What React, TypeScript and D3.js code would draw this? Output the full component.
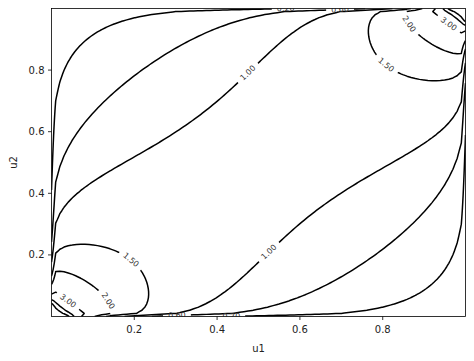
import React from 'react';
import * as d3 from 'd3';

// Gaussian copula density, correlation
const RHO = 0.5;
const GRID_N = 100;
const GRID_MIN = 0.0001;
const GRID_MAX = 0.9999;
const LEVELS = [0.2, 0.6, 1.0, 1.5, 2.0, 3.0, 4.0, 5.0];
const X_TICKS = [0.2, 0.4, 0.6, 0.8];
const Y_TICKS = [0.2, 0.4, 0.6, 0.8];
// contour label anchors (level, u1, u2)
const LABEL_LEVELS = [1.0, 1.0, 1.5, 2.0, 3.0, 1.5, 2.0, 3.0, 0.6, 0.2, 0.2, 0.6];
const LABEL_U1 = [0.471, 0.522, 0.807, 0.862, 0.958, 0.19, 0.138, 0.042, 0.303, 0.43, 0.57, 0.695];
const LABEL_U2 = [0.793, 0.216, 0.816, 0.952, 0.952, 0.183, 0.054, 0.054, 0.01, 0.008, 0.992, 0.99];

const W = 474, H = 361;
const M = { left: 51.5, right: 465.5, top: 8.5, bottom: 316.5 };
const LABEL_FONT = 8;

function normInv(p: number): number {
  const a = [-3.969683028665376e1, 2.209460984245205e2, -2.759285104469687e2, 1.38357751867269e2, -3.066479806614716e1, 2.506628277459239];
  const b = [-5.447609879822406e1, 1.615858368580409e2, -1.556989798598866e2, 6.680131188771972e1, -1.328068155288572e1];
  const c = [-7.784894002430293e-3, -3.223964580411365e-1, -2.400758277161838, -2.549732539343734, 4.374664141464968, 2.938163982698783];
  const d = [7.784695709041462e-3, 3.224671290700398e-1, 2.445134137142996, 3.754408661907416];
  const pl = 0.02425, ph = 1 - pl;
  let q, r;
  if (p < pl) {
    q = Math.sqrt(-2 * Math.log(p));
    return (((((c[0] * q + c[1]) * q + c[2]) * q + c[3]) * q + c[4]) * q + c[5]) / ((((d[0] * q + d[1]) * q + d[2]) * q + d[3]) * q + 1);
  } else if (p <= ph) {
    q = p - 0.5; r = q * q;
    return (((((a[0] * r + a[1]) * r + a[2]) * r + a[3]) * r + a[4]) * r + a[5]) * q / (((((b[0] * r + b[1]) * r + b[2]) * r + b[3]) * r + b[4]) * r + 1);
  } else {
    q = Math.sqrt(-2 * Math.log(1 - p));
    return -(((((c[0] * q + c[1]) * q + c[2]) * q + c[3]) * q + c[4]) * q + c[5]) / ((((d[0] * q + d[1]) * q + d[2]) * q + d[3]) * q + 1);
  }
}

function density(u: number, v: number): number {
  const x = normInv(u), y = normInv(v);
  const k = 1 - RHO * RHO;
  return Math.exp(-(RHO * RHO * (x * x + y * y) - 2 * RHO * x * y) / (2 * k)) / Math.sqrt(k);
}

function textWidth(s: string, f: number) {
  let w = 0;
  for (const ch of s) w += ch === '.' ? 0.318 * f : 0.636 * f;
  return w;
}

export default function App() {
  const x = d3.scaleLinear().domain([GRID_MIN, GRID_MAX]).range([M.left, M.right]);
  const y = d3.scaleLinear().domain([GRID_MIN, GRID_MAX]).range([M.bottom, M.top]);
  const step = (GRID_MAX - GRID_MIN) / (GRID_N - 1);
  const grid = d3.range(GRID_N).map(i => GRID_MIN + i * step);
  const values = new Array(GRID_N * GRID_N);
  for (let j = 0; j < GRID_N; j++) for (let i = 0; i < GRID_N; i++) values[j * GRID_N + i] = density(grid[i], grid[j]);
  const contours = d3.contours().size([GRID_N, GRID_N]).thresholds(LEVELS)(values);

  const isB = (p: number[]) => p[0] <= 0 || p[0] >= GRID_N || p[1] <= 0 || p[1] >= GRID_N;
  const toPx = (p: number[]) => [x(GRID_MIN + (p[0] - 0.5) * step), y(GRID_MIN + (p[1] - 0.5) * step)];

  const levelLines = contours.map(c => {
    const lines: number[][][] = [];
    for (const poly of c.coordinates) for (const ring of poly) {
      const pts = ring.slice(0, -1);
      const idx = pts.findIndex(isB);
      if (idx < 0) { lines.push(ring.map(toPx)); continue; }
      const rot = pts.slice(idx).concat(pts.slice(0, idx)).concat([pts[idx]]);
      let cur: number[][] = [];
      for (const p of rot) {
        if (isB(p)) { if (cur.length > 1) lines.push(cur.map(toPx)); cur = []; }
        else cur.push(p);
      }
      if (cur.length > 1) lines.push(cur.map(toPx));
    }
    return { value: c.value, lines };
  });

  const labels = LABEL_LEVELS.map((lv, k) => {
    const tx = x(LABEL_U1[k]), ty = y(LABEL_U2[k]);
    const ll = levelLines.find(l => Math.abs(l.value - lv) < 1e-9);
    let best = { d: Infinity, li: -1, pi: -1 };
    ll!.lines.forEach((line, li) => line.forEach((p, pi) => {
      const d = (p[0] - tx) ** 2 + (p[1] - ty) ** 2;
      if (d < best.d) best = { d, li, pi };
    }));
    const line = ll!.lines[best.li];
    const p = line[best.pi];
    const text = lv.toFixed(2);
    const tw = textWidth(text, LABEL_FONT);
    const walk = (dir: number) => {
      let acc = 0, i = best.pi;
      while (acc < tw / 2) {
        const ni = i + dir;
        if (ni < 0 || ni >= line.length) break;
        acc += Math.hypot(line[ni][0] - line[i][0], line[ni][1] - line[i][1]);
        i = ni;
      }
      return line[i];
    };
    const a = walk(-1), b = walk(1);
    let ang = Math.atan2(b[1] - a[1], b[0] - a[0]) * 180 / Math.PI;
    if (ang > 90) ang -= 180;
    if (ang < -90) ang += 180;
    return { level: lv, text, px: p[0], py: p[1], ang, tw };
  });

  const lineGen = d3.line();

  return (
    <svg width={W} height={H} style={{ position: 'absolute', left: 0, top: 0, background: '#fff' }}
      fontFamily="DejaVu Sans">
      <defs>
        <clipPath id="plot"><rect x={M.left} y={M.top} width={M.right - M.left} height={M.bottom - M.top} /></clipPath>
        {levelLines.map((l, i) => (
          <mask id={`m${i}`} key={i} maskUnits="userSpaceOnUse" x={0} y={0} width={W} height={H}>
            <rect x={0} y={0} width={W} height={H} fill="#fff" />
            {labels.filter(lb => Math.abs(lb.level - l.value) < 1e-9).map((lb, k) => (
              <rect key={k} x={-lb.tw / 2 - 5} y={-5} width={lb.tw + 10} height={10} fill="#000"
                transform={`translate(${lb.px},${lb.py}) rotate(${lb.ang})`} />
            ))}
          </mask>
        ))}
      </defs>
      <rect x={0} y={0} width={W} height={H} fill="#fff" />
      <g clipPath="url(#plot)">
        {levelLines.map((l, i) => (
          <g key={i} mask={`url(#m${i})`}>
            {l.lines.map((ln, k) => (
              <path key={k} d={lineGen(ln as [number, number][]) || ''} fill="none" stroke="#000" strokeWidth={1.5} strokeLinejoin="round" />
            ))}
          </g>
        ))}
        {labels.map((lb, k) => (
          <text key={k} x={0} y={0} fontSize={LABEL_FONT} fill="#333" textAnchor="middle" dominantBaseline="central"
            transform={`translate(${lb.px},${lb.py}) rotate(${lb.ang})`}>{lb.text}</text>
        ))}
      </g>
      <rect x={M.left} y={M.top} width={M.right - M.left} height={M.bottom - M.top} fill="none" stroke="#000" strokeWidth={0.8} />
      {X_TICKS.map(t => (
        <g key={t} transform={`translate(${x(t)},${M.bottom})`}>
          <line y1={0} y2={3.5} stroke="#000" strokeWidth={0.8} />
          <text y={16.5} textAnchor="middle" fontSize={10} fill="#222">{t.toFixed(1)}</text>
        </g>
      ))}
      {Y_TICKS.map(t => (
        <g key={t} transform={`translate(${M.left},${y(t)})`}>
          <line x1={0} x2={-3.5} stroke="#000" strokeWidth={0.8} />
          <text x={-7} dy="0.35em" textAnchor="end" fontSize={10} fill="#222">{t.toFixed(1)}</text>
        </g>
      ))}
      <text x={(M.left + M.right) / 2} y={352} textAnchor="middle" fontSize={10} fill="#222">u1</text>
      <text transform={`translate(17,${(M.top + M.bottom) / 2}) rotate(-90)`} textAnchor="middle" fontSize={10} fill="#222">u2</text>
    </svg>
  );
}
